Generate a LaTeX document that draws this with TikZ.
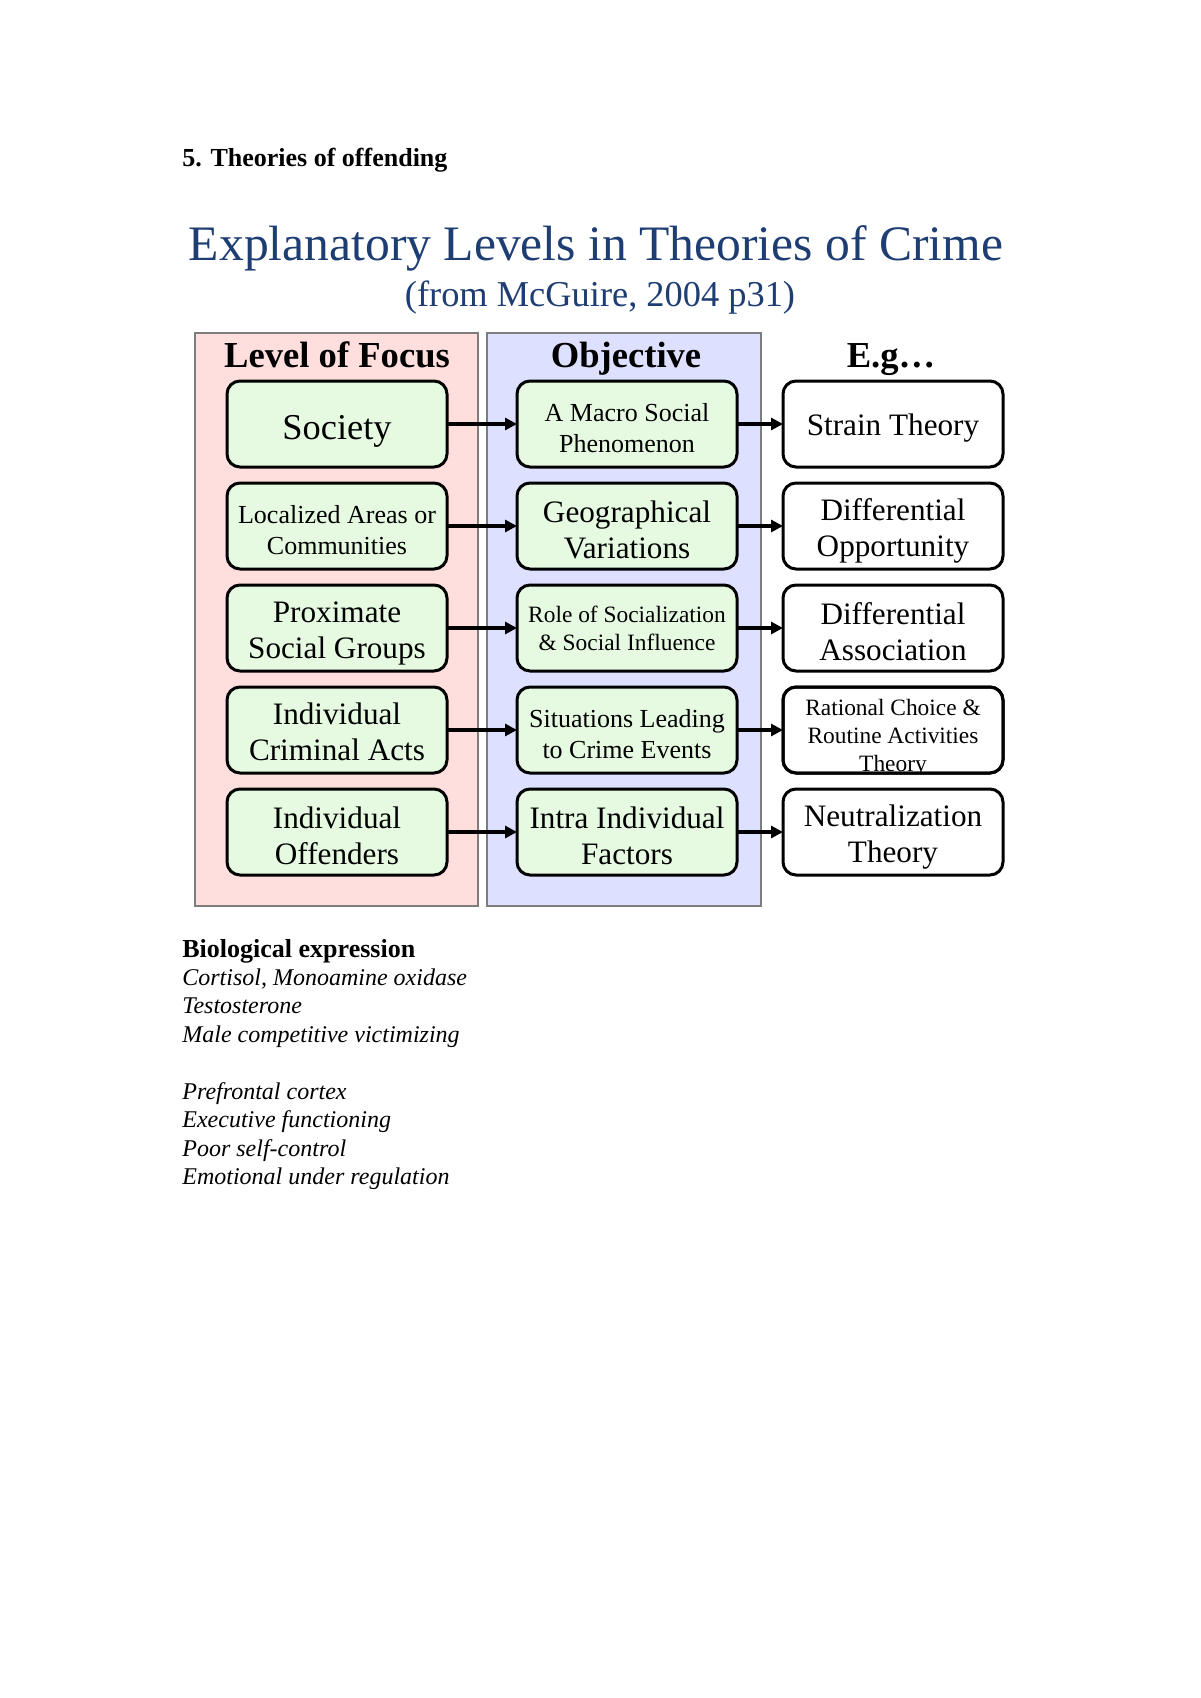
\documentclass[tikz,border=0pt]{standalone}
\usepackage{fontspec}
\setmainfont{Liberation Serif}
\usetikzlibrary{arrows.meta}
\definecolor{titleblue}{RGB}{30,62,115}
\definecolor{panelpink}{RGB}{255,222,222}
\definecolor{panelblue}{RGB}{222,224,255}
\definecolor{boxgreen}{RGB}{230,250,226}
\definecolor{panelgray}{RGB}{125,125,125}
\newcommand\fsSoc{\fontsize{18.2pt}{21pt}\selectfont}
\newcommand\fsBig{\fontsize{15.6pt}{18pt}\selectfont}
\newcommand\fsMid{\fontsize{13pt}{15.5pt}\selectfont}
\newcommand\fsSml{\fontsize{11.7pt}{14pt}\selectfont}
\newcommand\fsHead{\bfseries\fontsize{18.3pt}{21pt}\selectfont}
\newcommand\fsTitle{\fontsize{24.8pt}{28pt}\selectfont}
\newcommand\fsSub{\fontsize{18.2pt}{21pt}\selectfont}
\newcommand\fsDoc{\itshape\fontsize{12pt}{14pt}\selectfont}
\newcommand\fsDocB{\bfseries\fontsize{13pt}{15pt}\selectfont}
\begin{document}
\begin{tikzpicture}[x=0.5pt,y=-0.5pt,
  panel/.style={draw=panelgray, line width=0.8pt, inner sep=0pt, outer sep=0pt, minimum height=286.5pt},
  lvlbox/.style={draw=black, line width=1.5pt, rounded corners=6.5pt, fill=boxgreen,
     minimum width=110pt, minimum height=43pt, inner sep=0pt, outer sep=0pt},
  egbox/.style={lvlbox, fill=white},
  boxtxt/.style={align=center, inner sep=0pt, text=black, yshift=-2pt},
  conn/.style={line width=1.7pt, -{Triangle[length=6pt,width=6pt]}},
  head/.style={font=\fsHead, inner sep=0pt, anchor=base},
  docline/.style={anchor=base west, inner sep=0pt, font=\fsDoc}
]
\useasboundingbox (0,0) rectangle (1200,1698);
\fill[white] (0,0) rectangle (1200,1698);

% document text
\node[docline, font=\fsDocB] (hdr) at (182,166) {5. Theories of offending};

% title
\node[text=titleblue, font=\fsTitle, inner sep=0pt] (title) at (596,248) {Explanatory Levels in Theories of Crime};
\node[text=titleblue, font=\fsSub, inner sep=0pt] (subtitle) at (600,298) {(from McGuire, 2004 p31)};

% panels
\node[panel, fill=panelpink, minimum width=141.5pt] (panelL) at (336.5,619.5) {};
\node[panel, fill=panelblue, minimum width=137pt] (panelM) at (624,619.5) {};

% headers
\node[head] (hL) at (337,367) {Level of Focus};
\node[head] (hM) at (626,367) {Objective};
\node[head] (hR) at (891,367) {E.g…};

% boxes
\foreach \r/\y in {1/424,2/526,3/628,4/730,5/832}{
  \node[lvlbox] (l\r) at (337,\y) {};
  \node[lvlbox] (m\r) at (627,\y) {};
  \node[egbox] (r\r) at (893,\y) {};
}

% row 1
\node[boxtxt, font=\fsSoc, yshift=-1.5pt] (l1t) at (l1) {Society};
\node[boxtxt, font=\fsMid] (m1t) at (m1) {A Macro Social\\Phenomenon};
\node[boxtxt, font=\fsBig] (r1t) at (r1) {Strain Theory};
% row 2
\node[boxtxt, font=\fsMid] (l2t) at (l2) {Localized Areas or\\Communities};
\node[boxtxt, font=\fsBig] (m2t) at (m2) {Geographical\\Variations};
\node[boxtxt, font=\fsBig, yshift=-0.5pt] (r2t) at (r2) {Differential\\Opportunity};
% row 3
\node[boxtxt, font=\fsBig, yshift=-0.5pt] (l3t) at (l3) {Proximate\\Social Groups};
\node[boxtxt, font=\fsSml, yshift=2pt] (m3t) at (m3) {Role of Socialization\\\& Social Influence};
\node[boxtxt, font=\fsBig] (r3t) at (r3) {Differential\\Association};
% row 4
\node[boxtxt, font=\fsBig, yshift=1pt] (l4t) at (l4) {Individual\\Criminal Acts};
\node[boxtxt, font=\fsMid] (m4t) at (m4) {Situations Leading\\to Crime Events};
\begin{scope}
  \clip[rounded corners=6.5pt] (r4.north west) rectangle (r4.south east);
  \node[font=\fsSml, align=center, inner sep=0pt] (r4t) at (893,738) {Rational Choice \&\\Routine Activities\\Theory};
\end{scope}
\draw[line width=1.5pt, rounded corners=6.5pt] (r4.north west) rectangle (r4.south east);
% row 5
\node[boxtxt, font=\fsBig] (l5t) at (l5) {Individual\\Offenders};
\node[boxtxt, font=\fsBig] (m5t) at (m5) {Intra Individual\\Factors};
\node[boxtxt, font=\fsBig, yshift=-0.5pt] (r5t) at (r5) {Neutralization\\Theory};

% connectors
\foreach \i in {1,...,5}{
  \draw[conn] (l\i) -- (m\i);
  \draw[conn] (m\i) -- (r\i);
}

% lower text
\node[docline, font=\fsDocB] (bio0) at (182,957) {Biological expression};
\node[docline] (bio1) at (182,985) {Cortisol, Monoamine oxidase};
\node[docline] (bio2) at (182,1013) {Testosterone};
\node[docline] (bio3) at (182,1042) {Male competitive victimizing};
\node[docline] (pf0) at (182,1099) {Prefrontal cortex};
\node[docline] (pf1) at (182,1127) {Executive functioning};
\node[docline] (pf2) at (182,1156) {Poor self-control};
\node[docline] (pf3) at (182,1184) {Emotional under regulation};
\end{tikzpicture}
\end{document}
